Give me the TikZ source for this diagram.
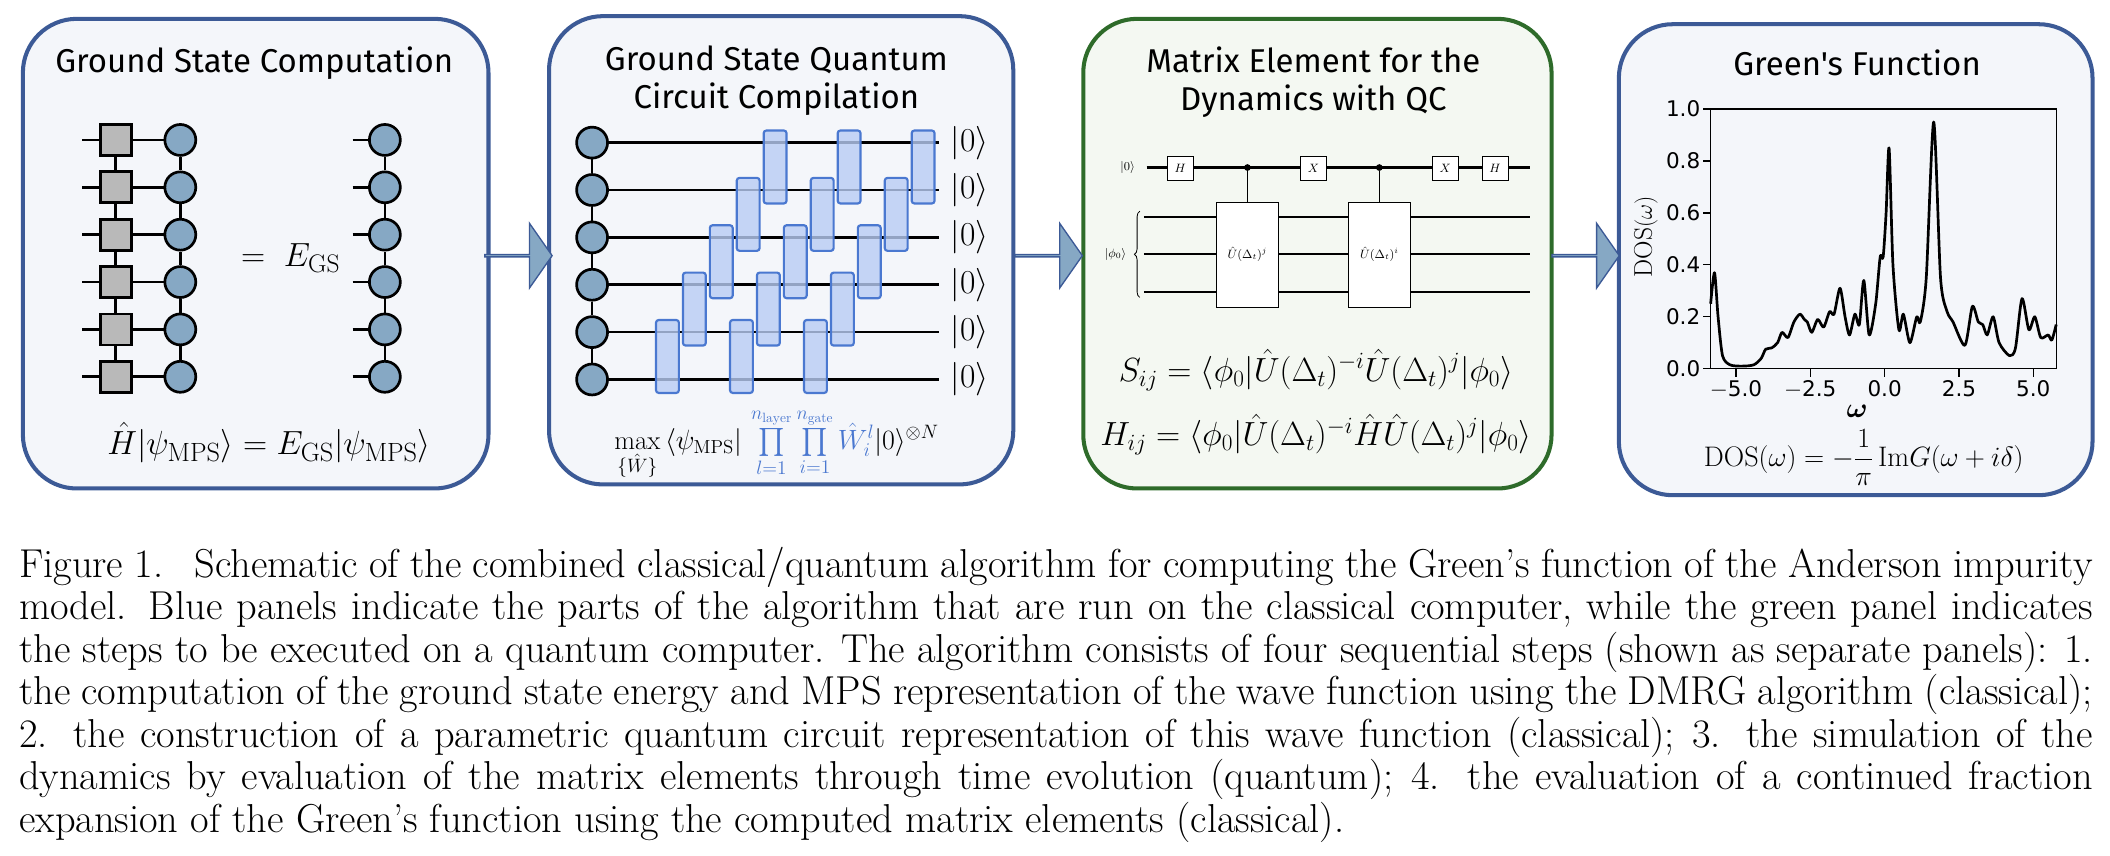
\documentclass[tikz,border=0pt]{standalone}
\usepackage{amsmath}
\usepackage{fontspec}
\newfontfamily\titlefont{Fira Sans}
\newfontfamily\tickfont{DejaVu Sans}
\usetikzlibrary{shapes.arrows,calc,decorations.pathreplacing}
\definecolor{pblue}{HTML}{3C5A96}
\definecolor{pgreen}{HTML}{2E6B2A}
\definecolor{pbfill}{HTML}{F4F6FA}
\definecolor{pgfill}{HTML}{F4F8F2}
\definecolor{site}{HTML}{86A8C4}
\definecolor{gatef}{HTML}{B8CCF4}
\definecolor{gated}{HTML}{4A78D0}
\definecolor{arrf}{HTML}{86A8C4}
\tikzset{
 panelb/.style={draw=pblue,line width=3pt,fill=pbfill,rounded corners=40pt},
 panelg/.style={draw=pgreen,line width=3pt,fill=pgfill,rounded corners=40pt},
 ttl/.style={font=\titlefont\fontsize{24.5}{28}\selectfont,align=center},
 sitec/.style={circle,draw,line width=2pt,fill=site,minimum size=23pt,inner sep=0pt},
 mpo/.style={rectangle,draw,line width=2pt,fill=gray!55,minimum size=23pt,inner sep=0pt},
 bond/.style={line width=2pt},
 gatebox/.style={draw=gated,line width=1.6pt,fill=gatef,fill opacity=0.8,rounded corners=2pt},
 bigarrow/.style={single arrow,draw=pblue,line width=1pt,fill=arrf,minimum height=50pt,minimum width=48pt,single arrow head extend=13pt,inner sep=0pt,single arrow tip angle=110},
 qg/.style={draw,fill=white,minimum width=19pt,minimum height=18pt,inner sep=0pt,font=\fontsize{9}{9}\selectfont},
 wire/.style={line width=1.6pt},
 eq/.style={font=\fontsize{24}{28}\selectfont},
 tick/.style={font=\tickfont\fontsize{16}{16}\selectfont}
}
\begin{document}
\begin{tikzpicture}[x=1pt,y=-1pt]
\useasboundingbox (0,0) rectangle (1568,636);
% panels
\path[panelb] (17,14) rectangle (363,363);
\path[panelb] (408,12) rectangle (753,360);
\path[panelg] (805,14) rectangle (1153,363);
\path[panelb] (1203,18) rectangle (1555,368);
\node[bigarrow] (a1) at (385,190) {};
\node[bigarrow] (a2) at (779,190) {};
\node[bigarrow] (a3) at (1178,190) {};
% panel 1
\node[ttl] (t1) at (189,47) {Ground State Computation};
\foreach \k in {0,...,5}{
  \pgfmathsetmacro\yy{104+35.2*\k}
  \coordinate (l\k) at (61,\yy);
  \coordinate (r\k) at (262,\yy);
  \node[mpo] (m\k) at (86,\yy) {};
  \node[sitec] (c\k) at (134,\yy) {};
  \node[sitec] (d\k) at (286,\yy) {};
  \draw[bond] (l\k) -- (m\k) (m\k) -- (c\k) (r\k) -- (d\k);
}
\foreach \k [evaluate=\k as \n using int(\k+1)] in {0,...,4}{
  \draw[bond] (m\k) -- (m\n) (c\k) -- (c\n) (d\k) -- (d\n);
}
\node[font=\fontsize{27}{30}\selectfont] (egs) at (216,192) {$=\;E_{\mathrm{GS}}$};
\node[font=\fontsize{28}{30}\selectfont] (h1) at (200,329) {$\hat H|\psi_{\mathrm{MPS}}\rangle = E_{\mathrm{GS}}|\psi_{\mathrm{MPS}}\rangle$};
% panel 2
\node[ttl] (t2) at (577,60) {Ground State Quantum\\Circuit Compilation};
\foreach \k in {0,...,5}{
  \pgfmathsetmacro\yy{106+35.2*\k}
  \node[sitec] (q\k) at (440,\yy) {};
  \coordinate (e\k) at (698,\yy);
  \draw[bond] (q\k) -- (e\k);
  \node[eq,anchor=west] (z\k) at (703,\yy) {$|0\rangle$};
}
\foreach \k [evaluate=\k as \n using int(\k+1)] in {0,...,4}{
  \draw[bond] (q\k) -- (q\n);
}
\foreach \p in {1,...,5}{
  \foreach \m in {0,1,2}{
    \pgfmathsetmacro\xx{496+20*(5-\p)+55*\m}
    \pgfmathsetmacro\ya{106+35.2*(\p-1)-9}
    \pgfmathsetmacro\yb{106+35.2*\p+10}
    \path[gatebox] (\xx-8.5,\ya) rectangle (\xx+8.5,\yb);
  }
}
\node[font=\fontsize{20}{24}\selectfont] (f2) at (577,330) {$\max\limits_{\{\hat W\}}\,\langle\psi_{\mathrm{MPS}}|\,\color{gated}\prod\limits_{l=1}^{n_{\mathrm{layer}}}\prod\limits_{i=1}^{n_{\mathrm{gate}}}\hat W_i^l\color{black}|0\rangle^{\otimes N}$};
% panel 3
\node[ttl] (t3) at (976,61) {Matrix Element for the\\Dynamics with QC};
\node[font=\fontsize{9}{9}\selectfont] (k0) at (838,124.5) {$|0\rangle$};
\coordinate (w0a) at (852,124.5); \coordinate (w0b) at (1137,124.5);
\draw[wire] (w0a) -- (w0b);
\foreach \y [count=\i] in {161,189,217}{
  \coordinate (wa\i) at (850,\y); \coordinate (wb\i) at (1137,\y);
  \draw[wire] (wa\i) -- (wb\i);
}
\node[qg] (g1) at (877,125) {$H$};
\node[qg] (g2) at (976,125) {$X$};
\node[qg] (g3) at (1074,125) {$X$};
\node[qg] (g4) at (1111,125) {$H$};
\node[draw,fill=white,minimum width=46pt,minimum height=78pt,inner sep=0pt,font=\fontsize{9}{9}\selectfont] (u1) at (927,189) {$\hat U(\Delta_t)^j$};
\node[draw,fill=white,minimum width=46pt,minimum height=78pt,inner sep=0pt,font=\fontsize{9}{9}\selectfont] (u2) at (1025,189) {$\hat U(\Delta_t)^i$};
\node[circle,fill,inner sep=0pt,minimum size=5pt] (cd1) at (927,124.5) {};
\node[circle,fill,inner sep=0pt,minimum size=5pt] (cd2) at (1025,124.5) {};
\draw[line width=1pt] (cd1) -- (u1.north) (cd2) -- (u2.north);
\coordinate (br1) at (847,157); \coordinate (br2) at (847,221);
\draw[decorate,decoration={brace,amplitude=4pt},line width=0.6pt] (br2) -- (br1);
\node[font=\fontsize{9}{9}\selectfont] (phl) at (829,189) {$|\phi_0\rangle$};
\node[font=\fontsize{25}{28}\selectfont] (sij) at (978,275) {$S_{ij}=\langle\phi_0|\hat U(\Delta_t)^{-i}\hat U(\Delta_t)^{j}|\phi_0\rangle$};
\node[font=\fontsize{25}{28}\selectfont] (hij) at (978,323) {$H_{ij}=\langle\phi_0|\hat U(\Delta_t)^{-i}\hat H\hat U(\Delta_t)^{j}|\phi_0\rangle$};
% panel 4
\node[ttl] (t4) at (1380,47) {Green's Function};
\begin{scope}[shift={(1400.5,274)},x=22.1pt,y=193pt]
  \draw[line width=1pt] (-5.86,0) rectangle (5.77,1);
  \foreach \v in {0.0,0.2,0.4,0.6,0.8,1.0}{
    \draw[line width=1pt] (-5.86,\v) -- (-6.1,\v);
    \node[tick,anchor=east,inner sep=2pt] at (-6.1,\v) {\v};
  }
  \foreach \v/\t in {-5/$-$5.0,-2.5/$-$2.5,0/0.0,2.5/2.5,5/5.0}{
    \draw[line width=1pt] (\v,0) -- (\v,-0.03);
    \node[tick,anchor=north,inner sep=2pt] at (\v,-0.035) {\t};
  }
  \draw[line width=2pt,line join=round] plot[smooth,tension=0.45] coordinates {
   (-5.85,0.25) (-5.72,0.37) (-5.6,0.2) (-5.45,0.05) (-5.2,0.015) (-4.8,0.01) (-4.4,0.015) (-4.15,0.04) (-4.0,0.075) (-3.8,0.08) (-3.6,0.1) (-3.45,0.14) (-3.25,0.12) (-3.05,0.18) (-2.85,0.21) (-2.7,0.19) (-2.6,0.18) (-2.45,0.14) (-2.25,0.19) (-2.05,0.16) (-1.85,0.22) (-1.7,0.21) (-1.5,0.31) (-1.33,0.2) (-1.18,0.13) (-1.0,0.21) (-0.85,0.17) (-0.7,0.34) (-0.52,0.13) (-0.3,0.25) (-0.15,0.43) (-0.05,0.43) (0.05,0.6) (0.15,0.85) (0.28,0.4) (0.48,0.15) (0.63,0.21) (0.85,0.1) (1.08,0.2) (1.2,0.18) (1.4,0.35) (1.65,0.95) (1.88,0.35) (2.1,0.22) (2.3,0.18) (2.7,0.09) (2.95,0.24) (3.15,0.18) (3.3,0.17) (3.45,0.13) (3.65,0.2) (3.85,0.1) (4.2,0.05) (4.4,0.08) (4.62,0.27) (4.85,0.15) (5.05,0.2) (5.25,0.12) (5.5,0.13) (5.62,0.11) (5.77,0.17)};
\end{scope}
\node[rotate=90,font=\fontsize{19}{19}\selectfont] (ylab) at (1223,176) {$\mathrm{DOS}(\omega)$};
\node[font=\fontsize{20}{20}\selectfont] (xlab) at (1380,306) {$\boldsymbol{\omega}$};
\node[font=\fontsize{21}{24}\selectfont] (dosf) at (1385,340) {$\mathrm{DOS}(\omega)=-\dfrac{1}{\pi}\,\mathrm{Im}G(\omega+i\delta)$};
% caption
\node[anchor=base west,inner sep=0pt,text width=1541pt,align=justify,font=\fontsize{30}{31.6}\selectfont] (cap) at (14,429) {\strut Figure 1.\enspace\ Schematic of the combined classical/quantum algorithm for computing the Green's function of the Anderson impurity\linebreak model. Blue panels indicate the parts of the algorithm that are run on the classical computer, while the green panel indicates\linebreak the steps to be executed on a quantum computer. The algorithm consists of four sequential steps (shown as separate panels): 1.\linebreak the computation of the ground state energy and MPS representation of the wave function using the DMRG algorithm (classical);\linebreak 2. the construction of a parametric quantum circuit representation of this wave function (classical); 3. the simulation of the\linebreak dynamics by evaluation of the matrix elements through time evolution (quantum); 4. the evaluation of a continued fraction\linebreak expansion of the Green's function using the computed matrix elements (classical).};
\end{tikzpicture}
\end{document}
